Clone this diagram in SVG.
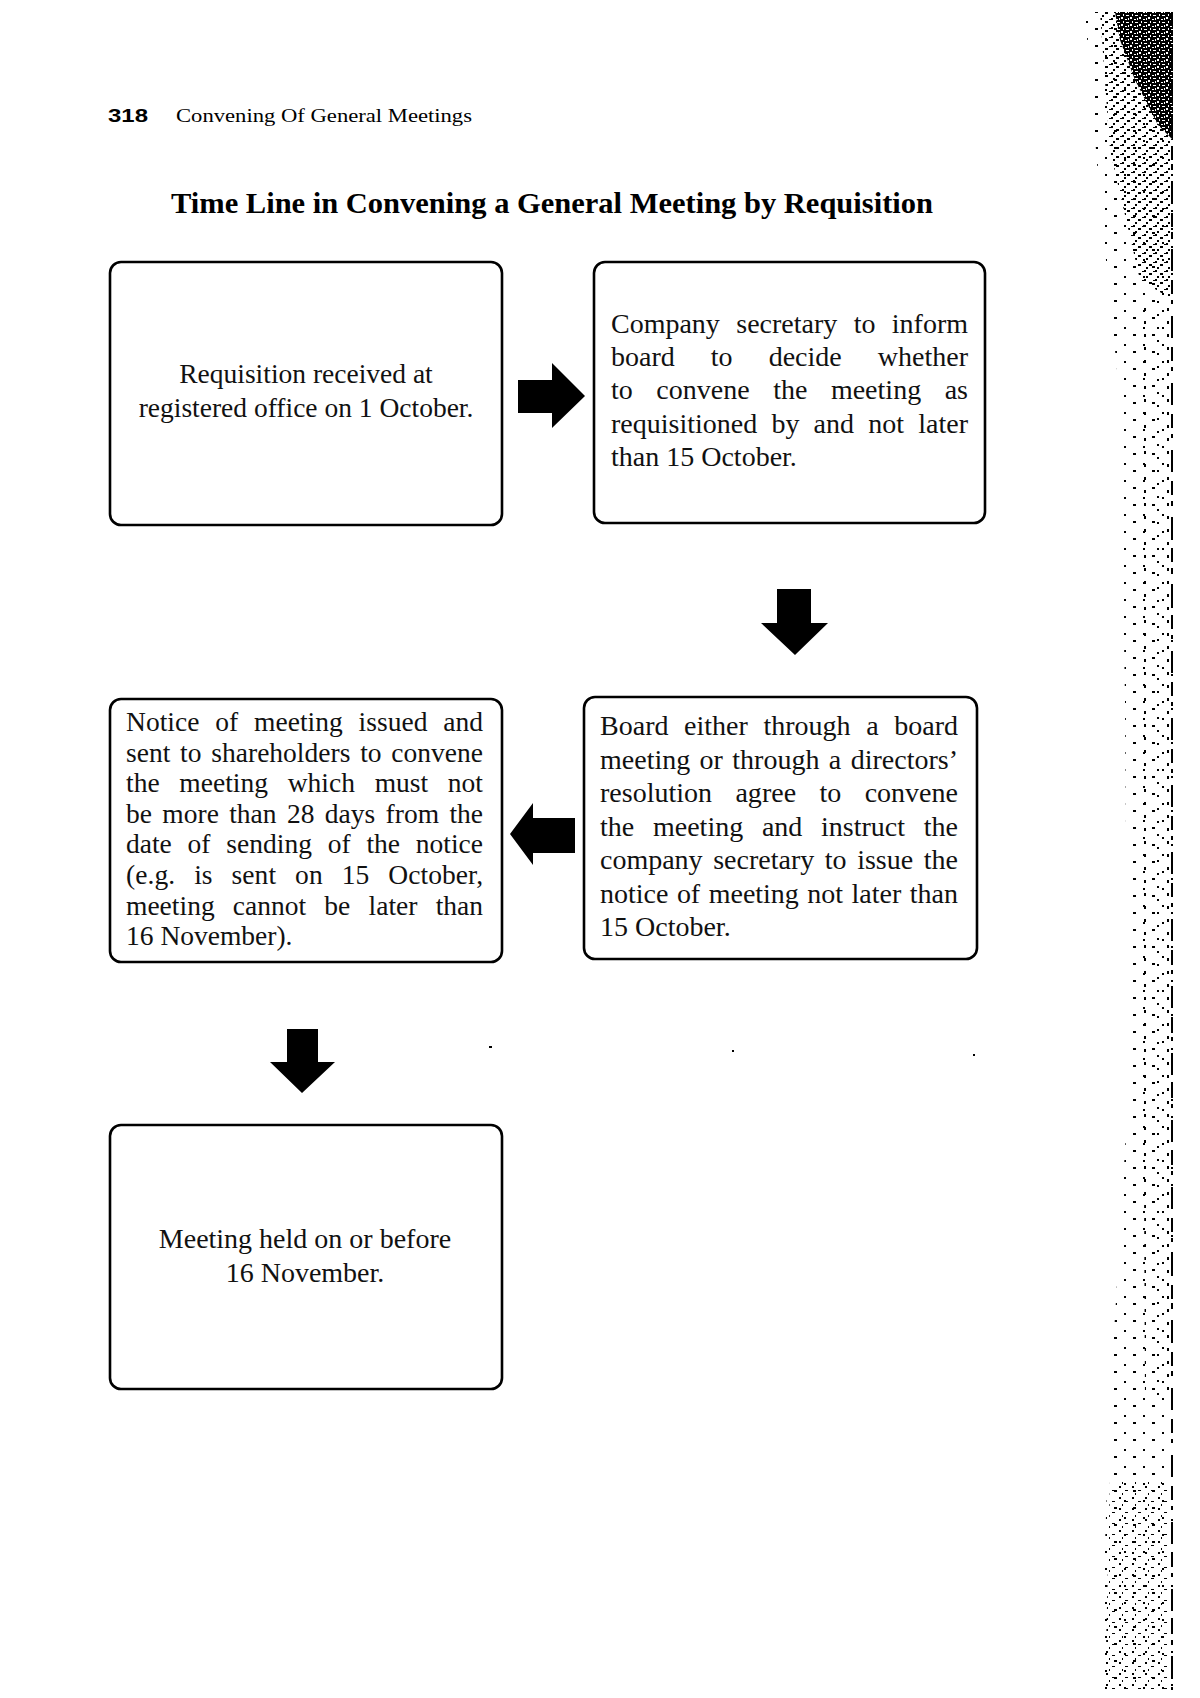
<svg xmlns="http://www.w3.org/2000/svg" width="1200" height="1698" viewBox="0 0 1200 1698">
<style>
.bx{fill:#fff;stroke:#000;stroke-width:2.6}
.t{font-family:"Liberation Serif","Times New Roman",serif;font-size:28px;fill:#111}
.t4{font-family:"Liberation Serif","Times New Roman",serif;font-size:27.5px;fill:#111}
.c{text-anchor:middle}
.arr{fill:#000}
</style>
<defs>
<pattern id="pDense" width="9" height="7" patternUnits="userSpaceOnUse">
<rect width="9" height="7" fill="#000"/><rect x="1" y="1" width="3" height="1" fill="#fff"/><rect x="5" y="3" width="2" height="2" fill="#fff"/><rect x="0" y="5" width="2" height="1" fill="#fff"/><rect x="7" y="0" width="1" height="2" fill="#fff"/><rect x="3" y="4" width="1" height="2" fill="#fff"/>
</pattern>
<pattern id="pMed" width="11" height="9" patternUnits="userSpaceOnUse">
<rect x="0" y="0" width="2" height="2" fill="#000"/><rect x="5" y="3" width="3" height="2" fill="#000"/><rect x="9" y="1" width="2" height="1" fill="#000"/><rect x="2" y="6" width="2" height="2" fill="#000"/>
</pattern>
<pattern id="pLow" width="13" height="11" patternUnits="userSpaceOnUse">
<rect x="1" y="1" width="2" height="2" fill="#000"/><rect x="7" y="5" width="3" height="1" fill="#000"/><rect x="4" y="8" width="1" height="2" fill="#000"/>
</pattern>
<pattern id="pSparse" width="19" height="17" patternUnits="userSpaceOnUse">
<rect x="3" y="4" width="2" height="2" fill="#000"/><rect x="12" y="11" width="3" height="2" fill="#000"/>
</pattern>
<pattern id="pSparse2" width="23" height="13" patternUnits="userSpaceOnUse">
<rect x="7" y="2" width="2" height="2" fill="#000"/><rect x="17" y="9" width="2" height="3" fill="#000"/>
</pattern>
</defs>
<rect width="1200" height="1698" fill="#fff"/>

<g id="header">
<text x="108" y="121.5" font-family="Liberation Sans, Arial, sans-serif" font-weight="bold" font-size="19" textLength="40" lengthAdjust="spacingAndGlyphs">318</text>
<text x="176" y="121.5" font-family="Liberation Serif, Times New Roman, serif" font-size="19" textLength="296" lengthAdjust="spacingAndGlyphs">Convening Of General Meetings</text>
</g>
<g id="title">
<text x="171" y="213" font-family="Liberation Serif, Times New Roman, serif" font-weight="bold" font-size="30" textLength="762" lengthAdjust="spacingAndGlyphs">Time Line in Convening a General Meeting by Requisition</text>
</g>

<g id="n1">
<rect class="bx" x="110" y="262" width="392" height="263" rx="11"/>
<text class="t c" x="306" y="383" style="font-size:27.5px">Requisition received at</text>
<text class="t c" x="306" y="417" style="font-size:27.5px">registered office on 1 October.</text>
</g>

<g id="n2">
<rect class="bx" x="594" y="262" width="391" height="261" rx="11"/>
<text class="t" x="611" y="333" word-spacing="9.4" textLength="357" lengthAdjust="spacing">Company secretary to inform</text>
<text class="t" x="611" y="366" word-spacing="29.1" textLength="357" lengthAdjust="spacing">board to decide whether</text>
<text class="t" x="611" y="399" word-spacing="16.5" textLength="357" lengthAdjust="spacing">to convene the meeting as</text>
<text class="t" x="611" y="433" word-spacing="7.2" textLength="357" lengthAdjust="spacing">requisitioned by and not later</text>
<text class="t" x="611" y="466">than 15 October.</text>
</g>

<g id="n3">
<rect class="bx" x="584" y="697" width="393" height="262" rx="11"/>
<text class="t" x="600" y="735" word-spacing="8.6" textLength="358" lengthAdjust="spacing">Board either through a board</text>
<text class="t" x="600" y="768.5" word-spacing="2.4" textLength="358" lengthAdjust="spacing">meeting or through a directors’</text>
<text class="t" x="600" y="802" word-spacing="16.4" textLength="358" lengthAdjust="spacing">resolution agree to convene</text>
<text class="t" x="600" y="835.5" word-spacing="11.7" textLength="358" lengthAdjust="spacing">the meeting and instruct the</text>
<text class="t" x="600" y="869" word-spacing="3.6" textLength="358" lengthAdjust="spacing">company secretary to issue the</text>
<text class="t" x="600" y="902.5" word-spacing="1.5" textLength="358" lengthAdjust="spacing">notice of meeting not later than</text>
<text class="t" x="600" y="936">15 October.</text>
</g>

<g id="n4">
<rect class="bx" x="110" y="699" width="392" height="263" rx="11"/>
<text class="t4" x="126" y="731" word-spacing="9.0" textLength="357" lengthAdjust="spacing">Notice of meeting issued and</text>
<text class="t4" x="126" y="761.6" word-spacing="2.9" textLength="357" lengthAdjust="spacing">sent to shareholders to convene</text>
<text class="t4" x="126" y="792.2" word-spacing="12.8" textLength="357" lengthAdjust="spacing">the meeting which must not</text>
<text class="t4" x="126" y="822.8" word-spacing="3.5" textLength="357" lengthAdjust="spacing">be more than 28 days from the</text>
<text class="t4" x="126" y="853.4" word-spacing="8.9" textLength="357" lengthAdjust="spacing">date of sending of the notice</text>
<text class="t4" x="126" y="884" word-spacing="12.1" textLength="357" lengthAdjust="spacing">(e.g. is sent on 15 October,</text>
<text class="t4" x="126" y="914.6" word-spacing="11.3" textLength="357" lengthAdjust="spacing">meeting cannot be later than</text>
<text class="t4" x="126" y="945.2">16 November).</text>
</g>

<g id="n5">
<rect class="bx" x="110" y="1125" width="392" height="264" rx="11"/>
<text class="t c" x="305" y="1248">Meeting held on or before</text>
<text class="t c" x="305" y="1282">16 November.</text>
</g>

<g id="connectors">
<polygon class="arr" points="518,380 552,380 552,363 585,396 552,428 552,413 518,413"/>
<polygon class="arr" points="777,589 811,589 811,623 828,623 795,655 761,623 777,623"/>
<polygon class="arr" points="575,818 533,818 533,803 510,834 533,865 533,853 575,853"/>
<polygon class="arr" points="287,1029 318,1029 318,1062 335,1062 302,1093 270,1062 287,1062"/>
</g>

<g id="specks" fill="#000">
<rect x="489" y="1046" width="3" height="2"/>
<rect x="732" y="1050" width="2" height="2"/>
<rect x="973" y="1054" width="2" height="2"/>
</g>

<g id="scan-edge">
<polygon points="1085,12 1173,12 1173,1690 1100,1690 1110,1400 1128,1100 1125,700 1120,400 1100,200" fill="url(#pSparse)"/>
<polygon points="1140,300 1173,300 1173,1400 1145,1400" fill="url(#pSparse2)"/>
<polygon points="1100,12 1173,12 1173,300 1140,280 1110,150" fill="url(#pMed)"/>
<polygon points="1110,1480 1173,1480 1173,1690 1105,1690" fill="url(#pLow)"/>
<polygon points="1115,12 1173,12 1173,140 1158,125 1135,80 1120,40" fill="url(#pDense)"/>
<line x1="1172" y1="12" x2="1172" y2="1690" stroke="#000" stroke-width="2" stroke-dasharray="14 6 4 12 22 9"/>
</g>
</svg>
